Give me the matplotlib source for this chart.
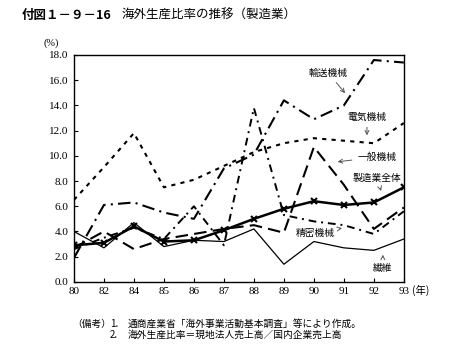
import matplotlib.pyplot as plt

plt.rcParams['font.family'] = ['Noto Sans CJK JP', 'DejaVu Sans']

years = ['80', '82', '84', '85', '86', '87', '88', '89', '90', '91', '92', '93']
zentai = [2.9, 3.1, 4.4, 3.2, 3.3, 4.1, 5.0, 5.8, 6.4, 6.1, 6.3, 7.5]
seni = [4.0, 2.7, 4.7, 2.8, 3.3, 3.2, 4.2, 1.4, 3.2, 2.7, 2.5, 3.4]
denki = [6.5, 9.1, 11.8, 7.5, 8.1, 9.2, 10.3, 11.0, 11.4, 11.2, 11.0, 12.6]
yuso = [1.9, 6.1, 6.3, 5.5, 5.0, 9.0, 10.1, 14.4, 12.9, 14.0, 17.6, 17.4]
ippan = [2.7, 4.0, 2.6, 3.4, 3.8, 4.2, 4.5, 3.9, 10.7, 7.7, 4.2, 5.9]
seimitsu = [2.6, 3.5, 4.3, 3.4, 6.0, 2.9, 13.8, 5.3, 4.8, 4.5, 3.8, 5.6]
yticks = [0, 2, 4, 6, 8, 10, 12, 14, 16, 18]

x = range(len(years))
fig = plt.figure(figsize=(4.74, 3.48), dpi=100)
ax = fig.add_axes([0.156, 0.19, 0.696, 0.652])

ax.plot(x, denki, color='black', lw=1.5, linestyle=(0, (2, 2.5)))
ax.plot(x, yuso, color='black', lw=1.5, linestyle=(0, (6, 2.5, 1, 2.5)))
ax.plot(x, ippan, color='black', lw=1.5, linestyle=(0, (6, 3)))
ax.plot(x, seimitsu, color='black', lw=1.4, linestyle=(0, (4, 2.5, 1, 2.5)))
ax.plot(x, seni, color='black', lw=0.9)
ax.plot(x, zentai, color='black', lw=1.8, marker='x', markersize=4, markeredgewidth=1.5)

ax.set_xlim(0, len(years) - 1)
ax.set_ylim(0, 18)
ax.set_xticks(list(x))
ax.set_xticklabels(years, family='Liberation Serif', fontsize=8)
ax.set_yticks(yticks)
ax.set_yticklabels(['%.1f' % v for v in yticks], family='Liberation Serif', fontsize=8)
ax.tick_params(direction='in', length=3, width=0.8, pad=4)
for s in ax.spines.values():
    s.set_linewidth(1.0)

fig.text(22 / 474, 1 - 15 / 348, '付図１－９－16', fontsize=9, fontweight='bold', va='center')
fig.text(122 / 474, 1 - 15 / 348, '海外生産比率の推移（製造業）', fontsize=9, va='center')
fig.text(44 / 474, 1 - 43 / 348, '(%)', fontsize=7.5, va='center', family='Liberation Serif')
fig.text(412 / 474, 1 - 290 / 348, '(年)', fontsize=7.5, va='center')

fig.text(72 / 474, 1 - 324 / 348, '（備考）', fontsize=7, va='center')
fig.text(110 / 474, 1 - 324 / 348, '1.', fontsize=7, va='center')
fig.text(128 / 474, 1 - 324 / 348, '通商産業省「海外事業活動基本調査」等により作成。', fontsize=7, va='center')
fig.text(110 / 474, 1 - 335 / 348, '2.', fontsize=7, va='center')
fig.text(128 / 474, 1 - 335 / 348, '海外生産比率＝現地法人売上高／国内企業売上高', fontsize=7, va='center')

arr = dict(arrowstyle='->', color='#555555', lw=0.7)
ax.annotate('輸送機械', xy=(9.1, 14.8), xytext=(8.47, 16.6), fontsize=7, ha='center', va='center', arrowprops=arr)
ax.annotate('電気機械', xy=(9.77, 11.4), xytext=(9.77, 13.1), fontsize=7, ha='center', va='center', arrowprops=arr)
ax.annotate('一般機械', xy=(8.7, 9.5), xytext=(9.45, 9.9), fontsize=7, ha='left', va='center', arrowprops=arr)
ax.annotate('製造業全体', xy=(10.27, 7.0), xytext=(10.1, 8.25), fontsize=7, ha='center', va='center', arrowprops=arr)
ax.annotate('精密機械', xy=(9.03, 4.3), xytext=(8.03, 3.9), fontsize=7, ha='center', va='center', arrowprops=arr)
ax.annotate('繊維', xy=(10.3, 2.15), xytext=(10.3, 1.1), fontsize=7, ha='center', va='center', arrowprops=arr)

fig.savefig('out.png', dpi=100)
